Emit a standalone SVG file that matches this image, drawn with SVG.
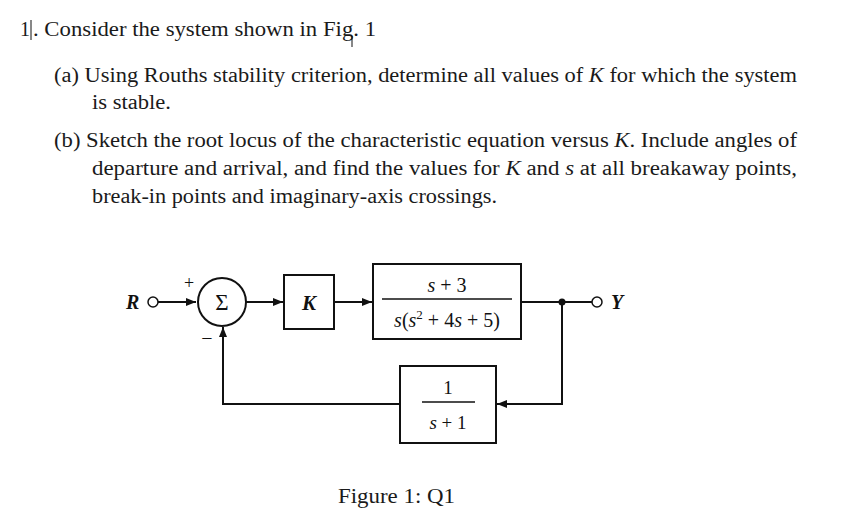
<svg xmlns="http://www.w3.org/2000/svg" width="864" height="520" viewBox="0 0 864 520">
<defs>
<style>
.t{font-family:"Liberation Serif","DejaVu Serif",serif;font-size:20px;fill:#1a1a1a}
.d{font-family:"Liberation Serif","DejaVu Serif",serif;fill:#111}
.b{fill:#fff;stroke:#111;stroke-width:2}
.w{fill:none;stroke:#111;stroke-width:2}
</style>
<marker id="a" viewBox="0 0 10 10" refX="10" refY="5" markerWidth="5" markerHeight="5" orient="auto"><path d="M0,1 L10,5 L0,9 z" fill="#111"/></marker>
</defs>
<rect width="864" height="520" fill="#fff"/>
<g id="text">
<text class="t" x="20" y="36">1</text><line x1="31" y1="20" x2="31" y2="40" stroke="#111" stroke-width="1"/>
<text class="t" x="33" y="36" textLength="343" lengthAdjust="spacingAndGlyphs">. Consider the system shown in Fig. 1</text>
<line x1="352" y1="36" x2="352" y2="47" stroke="#111" stroke-width="1"/>
<text class="t" x="54" y="82" textLength="743" lengthAdjust="spacingAndGlyphs">(a) Using Rouths stability criterion, determine all values of <tspan font-style="italic">K</tspan> for which the system</text>
<text class="t" x="92" y="109" textLength="79" lengthAdjust="spacingAndGlyphs">is stable.</text>
<text class="t" x="54" y="147" textLength="743" lengthAdjust="spacingAndGlyphs">(b) Sketch the root locus of the characteristic equation versus <tspan font-style="italic">K</tspan>. Include angles of</text>
<text class="t" x="92" y="175" textLength="705" lengthAdjust="spacingAndGlyphs">departure and arrival, and find the values for <tspan font-style="italic">K</tspan> and <tspan font-style="italic">s</tspan> at all breakaway points,</text>
<text class="t" x="92" y="203" textLength="405" lengthAdjust="spacingAndGlyphs">break-in points and imaginary-axis crossings.</text>
<text class="t" x="338" y="503" textLength="117" lengthAdjust="spacingAndGlyphs">Figure 1: Q1</text>
</g>
<g id="connectors">
<path class="w" d="M158,302 H196" marker-end="url(#a)"/>
<path class="w" d="M246,302 H283" marker-end="url(#a)"/>
<path class="w" d="M334,302 H372" marker-end="url(#a)"/>
<path class="w" d="M521,302 H592"/>
<path class="w" d="M562,302 V404 H497" marker-end="url(#a)"/>
<path class="w" d="M400,404 H223 V327" marker-end="url(#a)"/>
<circle cx="562" cy="302" r="3.5" fill="#111"/>
</g>
<g id="R"><circle cx="153" cy="302" r="5" fill="#fff" stroke="#111" stroke-width="1.5"/><text class="d" x="126" y="309" font-size="20" font-style="italic" font-weight="bold">R</text></g>
<g id="Y"><circle cx="597" cy="302" r="5" fill="#fff" stroke="#111" stroke-width="1.5"/><text class="d" x="611" y="309" font-size="20" font-style="italic" font-weight="bold">Y</text></g>
<g id="sum"><circle class="b" cx="222" cy="302" r="24"/><text class="d" x="222" y="310" font-size="23" text-anchor="middle">Σ</text>
<text class="d" x="189" y="289" font-size="18" text-anchor="middle">+</text><text class="d" x="207" y="345" font-size="20" text-anchor="middle">−</text></g>
<g id="K"><rect class="b" x="284" y="275" width="50" height="54"/><text class="d" x="309" y="310" font-size="21" font-style="italic" font-weight="bold" text-anchor="middle">K</text></g>
<g id="G"><rect class="b" x="373" y="264" width="148" height="75"/>
<text class="d" x="447" y="292" font-size="20" text-anchor="middle"><tspan font-style="italic">s</tspan> + 3</text>
<line x1="382" y1="299" x2="512" y2="299" stroke="#111" stroke-width="1.5"/>
<text class="d" x="447" y="327" font-size="20" text-anchor="middle"><tspan font-style="italic">s</tspan>(<tspan font-style="italic">s</tspan><tspan font-size="13" dy="-8">2</tspan><tspan dy="8"> + 4</tspan><tspan font-style="italic">s</tspan> + 5)</text></g>
<g id="H"><rect class="b" x="400" y="366" width="96" height="77"/>
<text class="d" x="448" y="394" font-size="19" text-anchor="middle">1</text>
<line x1="422" y1="402" x2="475" y2="402" stroke="#111" stroke-width="1.5"/>
<text class="d" x="448" y="429" font-size="19" text-anchor="middle"><tspan font-style="italic">s</tspan> + 1</text></g>
</svg>
